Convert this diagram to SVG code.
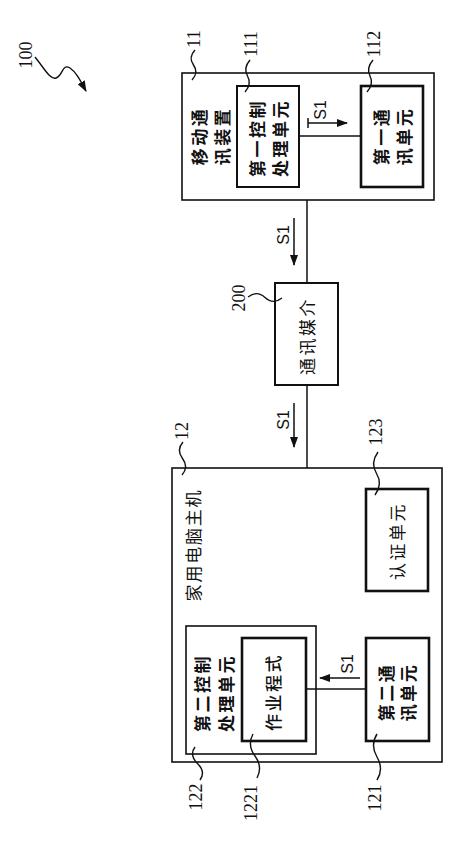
<svg xmlns="http://www.w3.org/2000/svg" width="474" height="852" viewBox="0 0 474 852">
<style>
.bg{fill:#fff}
.box{fill:none;stroke:#111;stroke-width:1.6}
.b2{fill:#fff;stroke:#111;stroke-width:2}
.b3{fill:#fff;stroke:#111;stroke-width:2.6}
.ln{fill:none;stroke:#111;stroke-width:1.5}
.ld{fill:none;stroke:#111;stroke-width:1.4}
.cj{font-family:"Noto Sans CJK SC","Noto Sans CJK TC",sans-serif;font-size:17px;letter-spacing:2.5px;fill:#111;text-anchor:middle;dominant-baseline:central}
.bd{font-weight:bold}
.num{font-family:"Liberation Serif",serif;font-size:18px;fill:#111;text-anchor:middle;dominant-baseline:central}
.s1{font-family:"Liberation Sans",sans-serif;font-size:16px;fill:#111;text-anchor:middle;dominant-baseline:central}
</style>
<defs>
<marker id="ah" markerWidth="11" markerHeight="8" refX="10" refY="4" orient="auto" markerUnits="userSpaceOnUse">
<path d="M0,0 L11,4 L0,8 z" fill="#111"/>
</marker>
</defs>
<rect class="bg" x="0" y="0" width="474" height="852"/>

<g id="n100">
<text class="num" transform="translate(26,55) rotate(-90)">100</text>
<path class="ld" d="M35,57 C44,68 50,80 56,78 C63,76 62,63 70,68 C76,72 80,80 86,91" marker-end="url(#ah)"/>
</g>

<g id="n11">
<rect class="box" x="182" y="73" width="252" height="127"/>
<text class="cj bd" transform="translate(198,136) rotate(-90)">移动通</text>
<text class="cj bd" transform="translate(221,136) rotate(-90)">讯装置</text>
<text class="num" transform="translate(194,39) rotate(-90)">11</text>
<path class="ld" d="M195,50 q-7,7.5 -1.5,15 t-1.5,15"/>
</g>

<g id="n111">
<rect class="b2" x="237" y="86" width="62" height="101"/>
<text class="cj bd" transform="translate(256,138) rotate(-90)">第一控制</text>
<text class="cj bd" transform="translate(279,138) rotate(-90)">处理单元</text>
<text class="num" transform="translate(251,44) rotate(-90)">111</text>
<path class="ld" d="M250,60 q-7,8 -2.5,16 t-2.5,16"/>
</g>

<g id="n112">
<rect class="b3" x="361" y="86" width="62" height="101"/>
<text class="cj bd" transform="translate(380,136) rotate(-90)">第一通</text>
<text class="cj bd" transform="translate(403,136) rotate(-90)">讯单元</text>
<text class="num" transform="translate(374,44) rotate(-90)">112</text>
<path class="ld" d="M373,60 q-7,8 -3,16 t-3,16"/>
</g>

<g id="n200">
<rect class="b2" x="275" y="283" width="63" height="102"/>
<text class="cj" transform="translate(306,336) rotate(-90)">通讯媒介</text>
<text class="num" transform="translate(239,298) rotate(-90)">200</text>
<path class="ld" d="M248,297 q9,-7 17,0.5 t17,0.5"/>
</g>

<g id="n12">
<rect class="box" x="172" y="468" width="270" height="294"/>
<text class="cj" style="letter-spacing:1.8px" transform="translate(192,545) rotate(-90)">家用电脑主机</text>
<text class="num" transform="translate(182,431) rotate(-90)">12</text>
<path class="ld" d="M183,442 q-7,8 -0.5,16.5 t-0.5,16.5"/>
</g>

<g id="n123">
<rect class="b3" x="366" y="489" width="62" height="102"/>
<text class="cj" transform="translate(396,541) rotate(-90)">认证单元</text>
<text class="num" transform="translate(376,432) rotate(-90)">123</text>
<path class="ld" d="M378,452 q-8,11 -1.5,21.5 t-1.5,21.5"/>
</g>

<g id="n122">
<rect class="box" x="186" y="626" width="130" height="128"/>
<text class="cj bd" transform="translate(201,693) rotate(-90)">第二控制</text>
<text class="cj bd" transform="translate(225,693) rotate(-90)">处理单元</text>
<text class="num" transform="translate(196,797) rotate(-90)">122</text>
<path class="ld" d="M195,747 q-6,8 2.5,16.5 t2.5,16.5"/>
</g>

<g id="n1221">
<rect class="b3" x="242" y="638" width="64" height="103"/>
<text class="cj" style="font-weight:500" transform="translate(272,692) rotate(-90)">作业程式</text>
<text class="num" transform="translate(251,803) rotate(-90)">1221</text>
<path class="ld" d="M253,734 q-6,11 2,22 t2,22"/>
</g>

<g id="n121">
<rect class="b3" x="366" y="638" width="63" height="103"/>
<text class="cj bd" transform="translate(385,692) rotate(-90)">第二通</text>
<text class="cj bd" transform="translate(407,692) rotate(-90)">讯单元</text>
<text class="num" transform="translate(375,798) rotate(-90)">121</text>
<path class="ld" d="M377,734 q-7,11 0,23 t0,23"/>
</g>

<g id="connectors">
<line class="ln" x1="307" y1="200" x2="307" y2="283"/>
<line class="ln" x1="307" y1="385" x2="307" y2="468"/>
<line class="ln" x1="299" y1="136" x2="361" y2="136"/>
<line class="ln" x1="306" y1="689" x2="366" y2="689"/>
<line class="ln" x1="294" y1="218" x2="294" y2="265" marker-end="url(#ah)"/>
<text class="s1" transform="translate(283,235) rotate(-90)">S1</text>
<line class="ln" x1="294" y1="403" x2="294" y2="447" marker-end="url(#ah)"/>
<text class="s1" transform="translate(283,420) rotate(-90)">S1</text>
<line class="ln" x1="308" y1="123" x2="347" y2="123" marker-end="url(#ah)"/>
<line class="ln" x1="308" y1="118" x2="308" y2="128"/>
<text class="s1" transform="translate(320,110) rotate(-90)">S1</text>
<line class="ln" x1="360" y1="678" x2="320" y2="678" marker-end="url(#ah)"/>
<text class="s1" transform="translate(347,664) rotate(-90)">S1</text>
</g>
</svg>
